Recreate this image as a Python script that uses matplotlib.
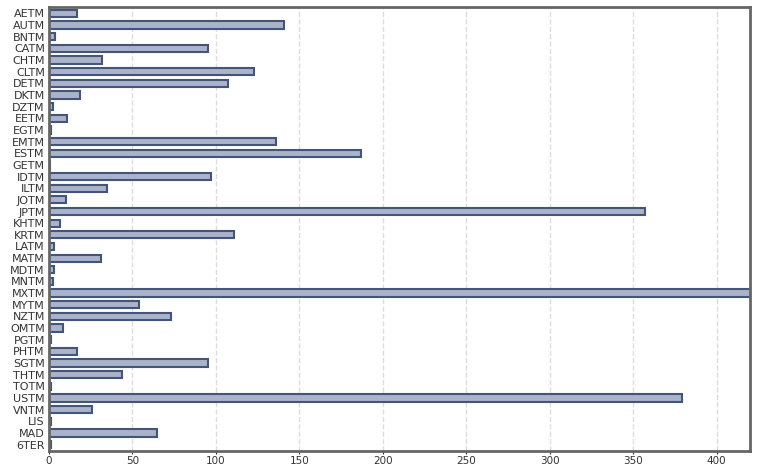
import matplotlib
matplotlib.use("Agg")
import matplotlib.pyplot as plt

categories = ["AETM","AUTM","BNTM","CATM","CHTM","CLTM","DETM","DKTM","DZTM","EETM","EGTM","EMTM","ESTM","GETM","IDTM","ILTM","JOTM","JPTM","KHTM","KRTM","LATM","MATM","MDTM","MNTM","MXTM","MYTM","NZTM","OMTM","PGTM","PHTM","SGTM","THTM","TOTM","USTM","VNTM","LIS","MAD","6TER"]
values = [17,141,3.5,95,32,123,107,18.5,2.5,10.5,1,136,187,0.5,97,35,10,357,6.5,111,3,31,3,2.5,430,54,73,8.5,1,17,95,44,1,379,26,1,65,1]
xticks = [0,50,100,150,200,250,300,350,400]

fig = plt.figure(figsize=(7.7,4.68), dpi=100)
ax = fig.add_axes([49/770, 17/468, 701/770, 444/468])
y = list(range(len(categories)))
ax.barh(y, values, height=0.62, color="#aab3c9", edgecolor="#44557a", linewidth=1.5)
ax.set_yticks(y)
ax.set_yticklabels(categories, fontsize=8, color="#333333")
ax.set_ylim(len(categories)-0.45, -0.55)
ax.set_xlim(0, 420)
ax.set_xticks(xticks)
ax.tick_params(axis="x", labelsize=7.5, colors="#333333", length=2, pad=1.5)
ax.tick_params(axis="y", length=0, pad=3)
ax.grid(axis="x", linestyle="--", color="#dddddd", linewidth=1)
ax.set_axisbelow(True)
for s in ax.spines.values():
    s.set_color("#666666"); s.set_linewidth(2)
fig.savefig("out.png", dpi=100)
